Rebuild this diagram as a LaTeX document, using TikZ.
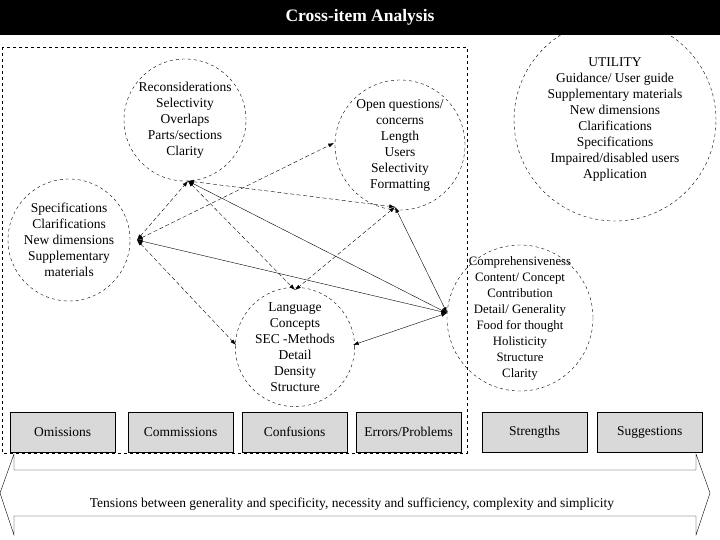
\documentclass[tikz,border=0pt]{standalone}
\usepackage{fontspec}
\setmainfont{Liberation Serif}
\usetikzlibrary{arrows.meta, positioning}

\begin{document}
\begin{tikzpicture}[
  x=1pt, y=-1pt,
  font=\fontsize{13.5}{16}\selectfont,
  arrow/.style={{Latex[length=2mm,width=1.4mm]}-{Latex[length=2mm,width=1.4mm]}, thin},
  dashedarrow/.style={arrow, dash pattern=on 4pt off 2.5pt},
  topic/.style={circle, draw, dashed, align=center, inner sep=0pt},
  cat/.style={rectangle, draw, fill=black!15, minimum width=105pt, minimum height=40pt,
              anchor=north west, font=\fontsize{13.5}{15}\selectfont}
]
\useasboundingbox (0,0) rectangle (720,540);

% title bar
\fill[black] (0,0) rectangle (720,35);
\node[text=white, font=\bfseries\fontsize{17.5}{19}\selectfont] (title) at (360,17) {Cross-item Analysis};

% dashed frame
\draw[dashed, thick] (2,47) rectangle (467,453);

% topic circles
\node[topic, minimum size=122pt] (recon) at (185,120)
  {Reconsiderations\\Selectivity\\Overlaps\\Parts/sections\\Clarity};
\node[topic, minimum size=130pt] (open) at (400,145)
  {Open questions/\\concerns\\Length\\Users\\Selectivity\\Formatting};
\node[topic, minimum size=122pt] (spec) at (69,240)
  {Specifications\\Clarifications\\New dimensions\\Supplementary\\materials};
\node[topic, minimum size=116pt] (lang) at (295,347)
  {Language\\Concepts\\SEC -Methods\\Detail\\Density\\Structure};
\node[topic, minimum size=146pt, inner sep=-8pt, font=\fontsize{12.8}{16}\selectfont] (comp) at (520,318)
  {Comprehensiveness\\Content/ Concept\\Contribution\\Detail/ Generality\\Food for thought\\Holisticity\\Structure\\Clarity};
\node[topic, minimum size=202pt] (util) at (615,120)
  {UTILITY\\Guidance/ User guide\\Supplementary materials\\New dimensions\\Clarifications\\Specifications\\Impaired/disabled users\\Application};

% connector ends
\coordinate (specR) at (137,240);
\coordinate (reconB) at (188,181);
\coordinate (openB) at (395,207);
\coordinate (openL) at (334,143);
\coordinate (compL) at (447,313);
\coordinate (langT) at (295,290);
\coordinate (langL) at (236,345);
\coordinate (langR) at (353,345);

\draw[dashedarrow] (specR) -- (reconB);
\draw[dashedarrow] (specR) -- (openL);
\draw[dashedarrow] (specR) -- (langL);
\draw[dashedarrow] (reconB) -- (openB);
\draw[dashedarrow] (reconB) -- (langT);
\draw[dashedarrow] (openB) -- (langT);
\draw[arrow] (specR) -- (compL);
\draw[arrow] (compL) -- (reconB);
\draw[arrow] (compL) -- (openB);
\draw[arrow] (compL) -- (langR);

% categories
\node[cat] (omi) at (10,412) {Omissions};
\node[cat] (com) at (128,412) {Commissions};
\node[cat] (con) at (242,412) {Confusions};
\node[cat] (err) at (356,412) {Errors/Problems};
\node[cat] (str) at (482,412) {Strengths};
\node[cat] (sug) at (597,412) {Suggestions};

% tension arrow
\draw (14,470) -- (696,470) -- (696,454) -- (710,493) -- (696,535) -- (696,516)
  -- (14,516) -- (14,535) -- (0,493) -- (14,454) -- cycle;
\node (tension) at (352,504)
  {Tensions between generality and specificity, necessity and sufficiency, complexity and simplicity};
\end{tikzpicture}
\end{document}
